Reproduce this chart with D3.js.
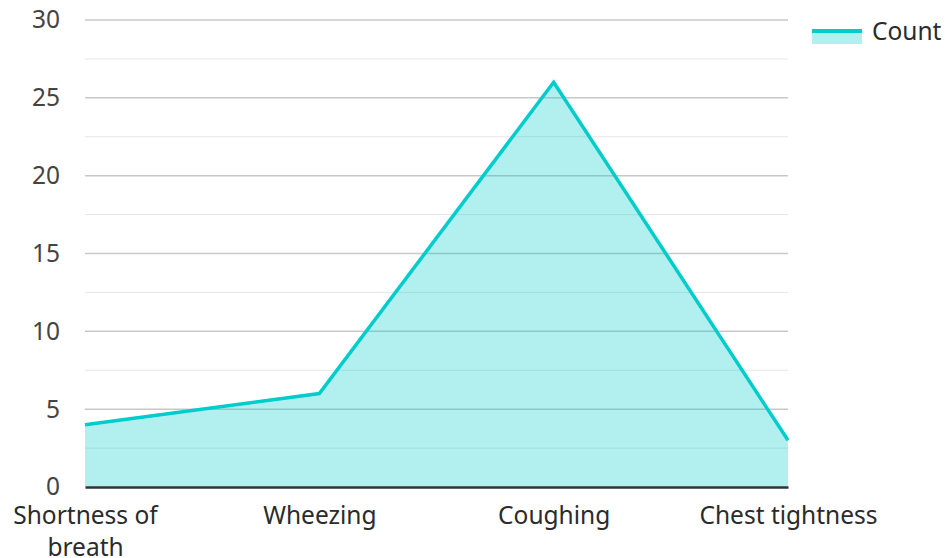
<!DOCTYPE html>
<html>
<head>
<meta charset="utf-8">
<script src="https://cdn.jsdelivr.net/npm/d3@7"></script>
<style>
  html, body { margin: 0; padding: 0; background: #fff; }
  svg { display: block; font-family: "Noto Sans", sans-serif; }
</style>
</head>
<body>
<svg id="chart" width="945" height="558"></svg>
<script>
// Symptom counts
const categories = ["Shortness of breath", "Wheezing", "Coughing", "Chest tightness"];
const counts = [4, 6, 26, 3];
const yTicks = [0, 5, 10, 15, 20, 25, 30];
const yMinorTicks = [2.5, 7.5, 12.5, 17.5, 22.5, 27.5];
const seriesName = "Count";

const lineColor = "#00cccc";
const fillColor = "rgba(0, 204, 204, 0.3)";
const textColor = "#2b2b2b";
const yTextColor = "#444444";
const fontSize = "24.5px";

const margin = { top: 20, right: 157, bottom: 71, left: 85 };
const width = 945, height = 558;
const svg = d3.select("#chart");
const g = svg.append("g").attr("transform", `translate(${margin.left},${margin.top})`);
const innerW = width - margin.left - margin.right;
const innerH = height - margin.top - margin.bottom;

const x = d3.scalePoint().domain(categories).range([0, innerW]).padding(0);
const y = d3.scaleLinear().domain([0, 30]).range([innerH, 0]);

// minor grid
g.append("g")
  .selectAll("line")
  .data(yMinorTicks)
  .join("line")
  .attr("x1", 0).attr("x2", innerW)
  .attr("y1", d => y(d)).attr("y2", d => y(d))
  .attr("stroke", "#e6e6e6").attr("stroke-width", 1);

// major grid
g.append("g")
  .selectAll("line")
  .data(yTicks.filter(d => d !== 0))
  .join("line")
  .attr("x1", 0).attr("x2", innerW)
  .attr("y1", d => y(d)).attr("y2", d => y(d))
  .attr("stroke", "#c8c8c8").attr("stroke-width", 1.5);

const pts = categories.map((c, i) => ({ c, v: counts[i] }));

// area + line
g.append("path")
  .datum(pts)
  .attr("fill", fillColor)
  .attr("d", d3.area().x(d => x(d.c)).y0(y(0)).y1(d => y(d.v)));

g.append("path")
  .datum(pts)
  .attr("fill", "none")
  .attr("stroke", lineColor)
  .attr("stroke-width", 3.5)
  .attr("stroke-linejoin", "miter")
  .attr("d", d3.line().x(d => x(d.c)).y(d => y(d.v)));

// y axis labels
const yAxis = g.append("g")
  .call(d3.axisLeft(y).tickValues(yTicks).tickSize(0).tickPadding(25));
yAxis.select(".domain").remove();
yAxis.selectAll("text")
  .attr("fill", yTextColor)
  .style("font-size", fontSize)
  .style("font-family", "'Noto Sans', sans-serif");

// x axis
const xAxis = g.append("g")
  .attr("transform", `translate(0,${innerH})`)
  .call(d3.axisBottom(x).tickSize(0).tickPadding(20));
xAxis.select(".domain").attr("stroke", "#333").attr("stroke-width", 2.5);
xAxis.selectAll(".tick text")
  .attr("fill", textColor)
  .style("font-size", fontSize)
  .style("font-family", "'Noto Sans', sans-serif")
  .each(function (d) {
    const t = d3.select(this);
    const lines = d === "Shortness of breath" ? ["Shortness of", "breath"] : [d];
    t.text(null);
    lines.forEach((ln, i) => {
      t.append("tspan").attr("x", 0).attr("dy", i === 0 ? "0.71em" : "1.27em").text(ln);
    });
  });

// legend
const lg = svg.append("g").attr("transform", "translate(812,29)");
lg.append("rect").attr("x", 0).attr("y", 0).attr("width", 50).attr("height", 15).attr("fill", fillColor);
lg.append("line").attr("x1", 0).attr("x2", 50).attr("y1", 2).attr("y2", 2)
  .attr("stroke", lineColor).attr("stroke-width", 4);
lg.append("text").attr("x", 60).attr("y", 11).text(seriesName)
  .attr("fill", textColor).style("font-size", fontSize);
</script>
</body>
</html>
